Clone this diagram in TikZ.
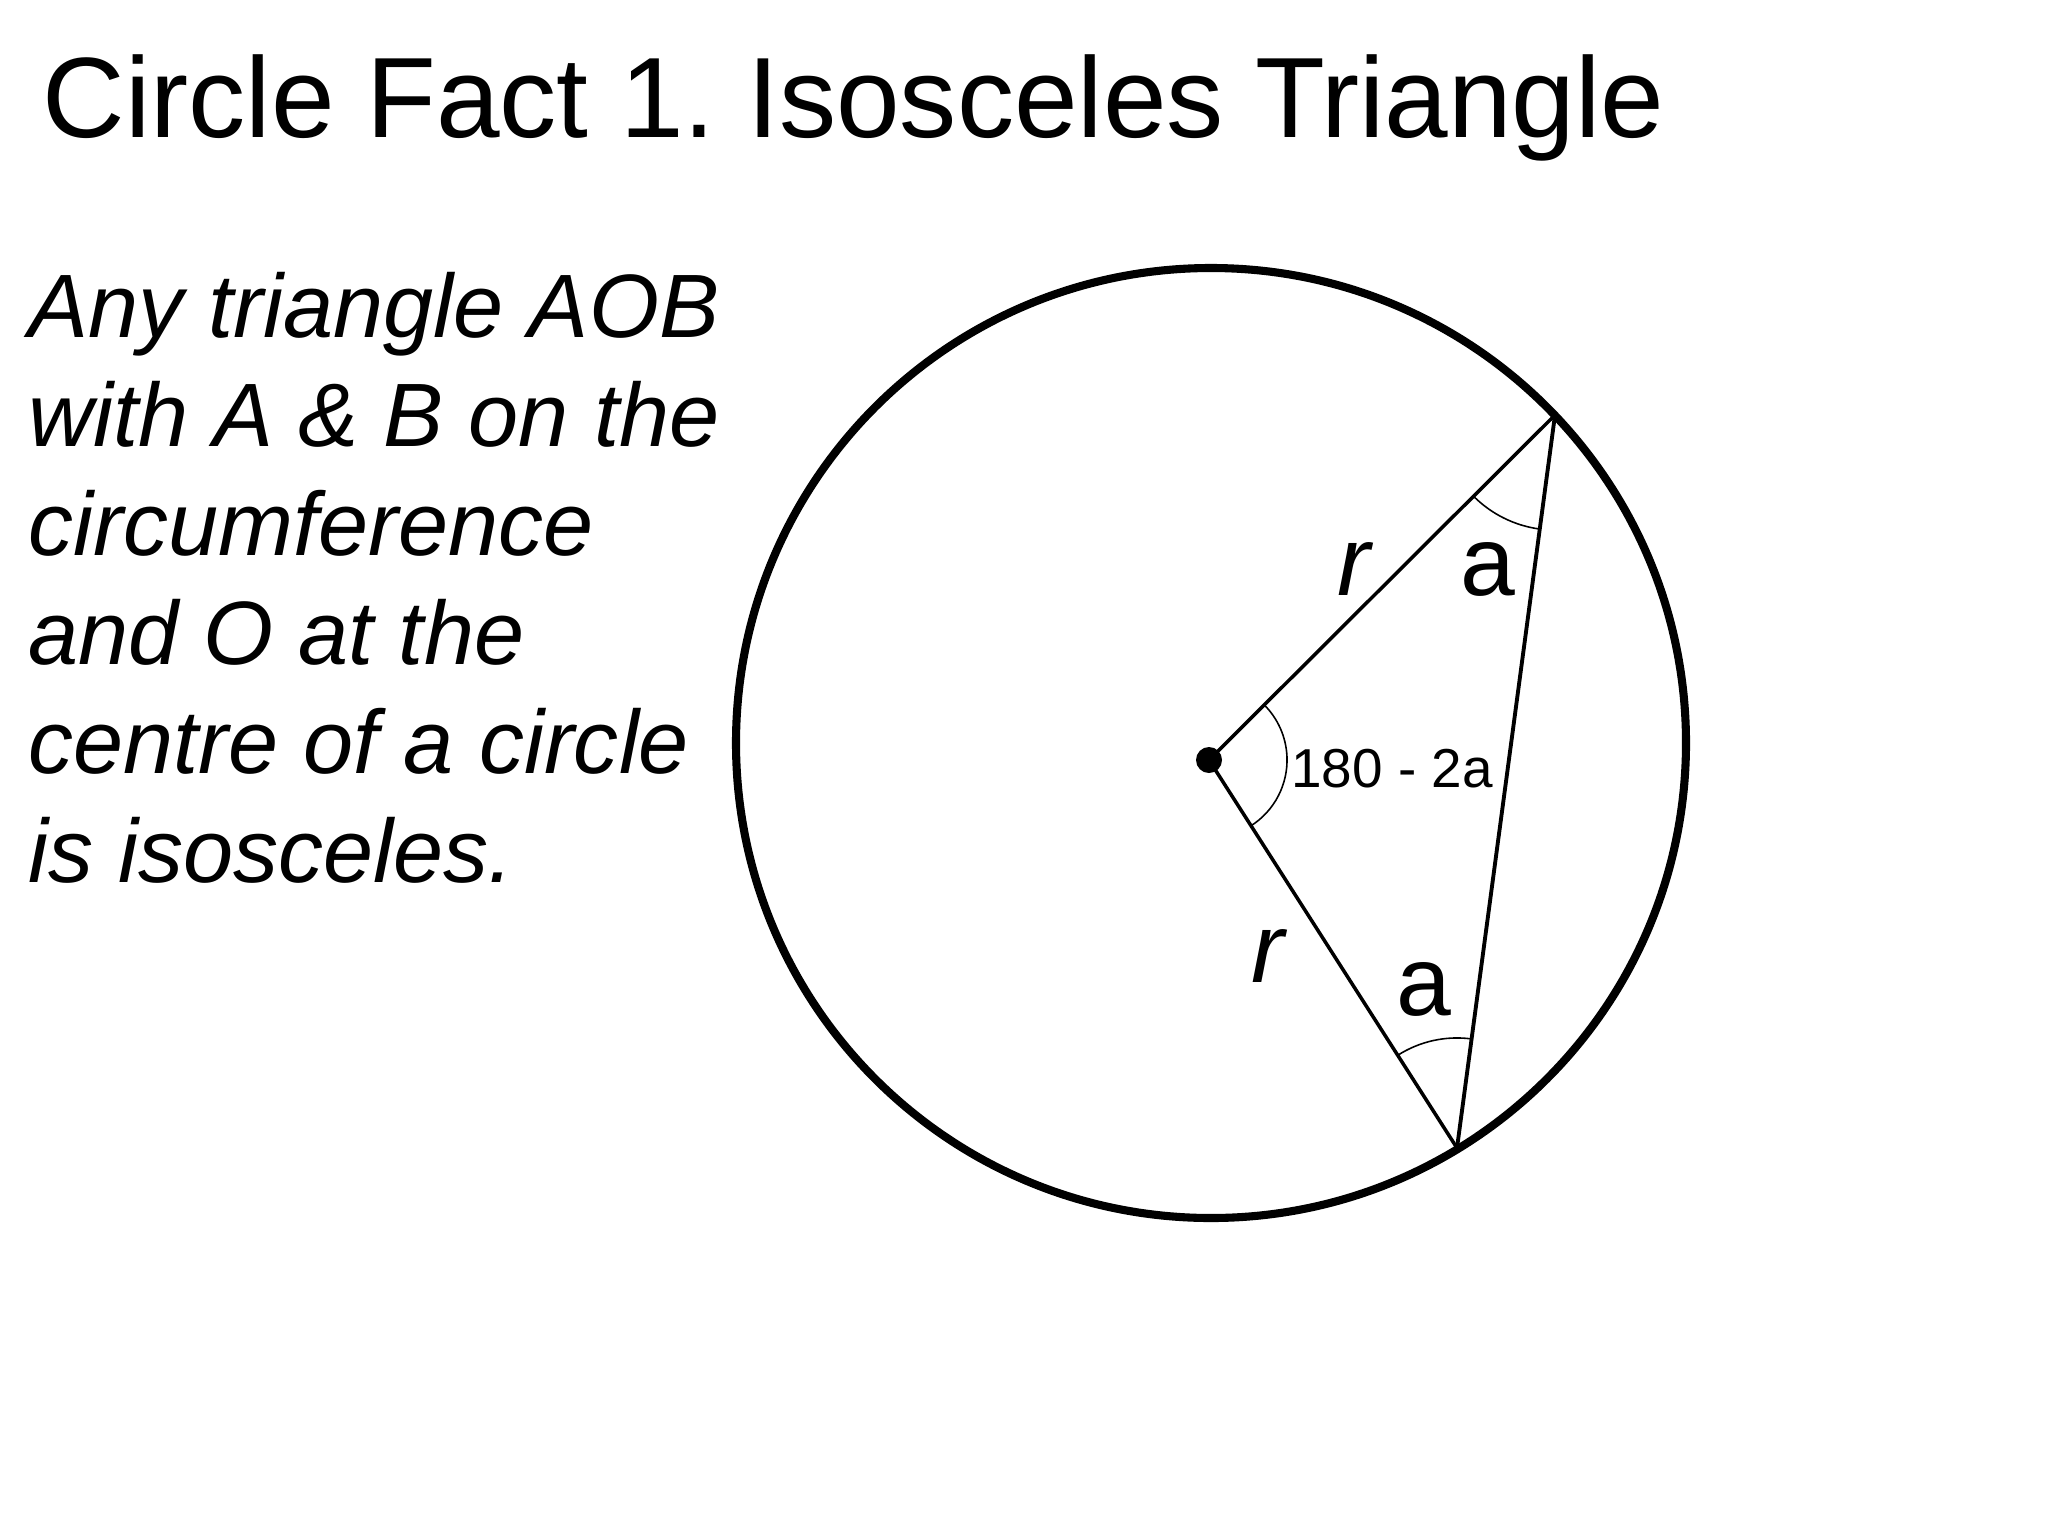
\documentclass[tikz,border=0pt]{standalone}
\usepackage{fontspec}
\setmainfont{Liberation Sans}
\usepackage{tikz}
\usetikzlibrary{angles}

\tikzset{
	lbl/.style = {anchor=base, inner sep=0, font=\fontsize{28}{34}\selectfont},
	body/.style = {anchor=base west, inner sep=0, font=\fontsize{25.6}{31}\selectfont\itshape},
	anglearc/.style = {draw, line width=0.45pt}
}

\begin{document}
\frenchspacing
\begin{tikzpicture}[x = 0.01cm, y = -0.01cm]
	\useasboundingbox (0,0) rectangle (2048,1536);
	\node[anchor=base west, inner sep=0, font=\fontsize{32.5}{38}\selectfont] (title) at (42,137) {Circle Fact 1. Isosceles Triangle};
	\foreach \t [count=\i] in {Any triangle AOB, with A \& B on the, circumference, and O at the, centre of a circle, is isosceles.} { \node[body] (line\i) at (28,{337+109*(\i-1)}) {\t}; }
	\coordinate (ctr) at (1211,743); %circle
	\coordinate (O) at (1209,760);
	\coordinate (A) at (1555,415);
	\coordinate (B) at (1457,1148);
	\draw[line width=2.3pt] (ctr) circle (475);
	\draw[line width=1pt] (A) -- (O) -- (B);
	\draw[line width=1.1pt] (A) -- (B);
	\fill (O) circle (13);
	\pic[anglearc, angle radius=0.78cm] {angle = B--O--A}; %O
	\pic[anglearc, angle radius=1.15cm] {angle = O--A--B}; %A
	\pic[anglearc, angle radius=1.1cm] {angle = A--B--O}; %B
	\node[lbl, font=\fontsize{28}{34}\selectfont\itshape] (rA) at (1354,595) {r};
	\node[lbl] (aA) at (1488,595) {a};
	\node[lbl, font=\fontsize{15.6}{18}\selectfont] (aO) at (1392,787) {180 - 2a};
	\node[lbl, font=\fontsize{28}{34}\selectfont\itshape] (rB) at (1268,982) {r};
	\node[lbl] (aB) at (1424,1015) {a};
\end{tikzpicture}
\end{document}
